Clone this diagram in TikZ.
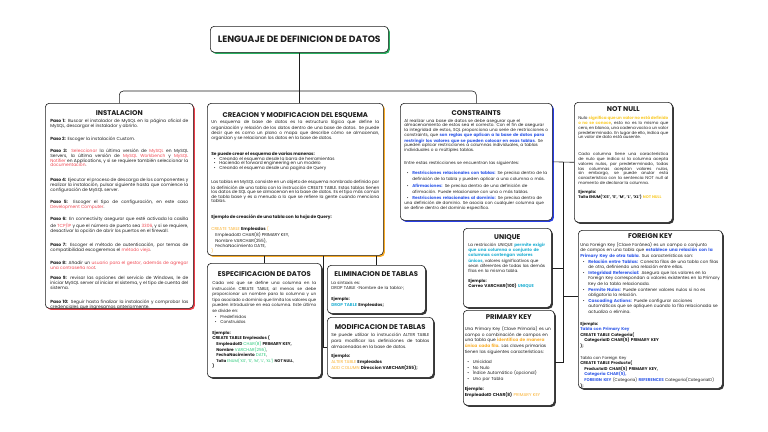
\documentclass[tikz,border=0pt]{standalone}
\usepackage{fontspec}
\setmainfont{Poppins}
\usetikzlibrary{positioning,calc,shadows}

\definecolor{ink}{RGB}{30,30,30}
\definecolor{ttlgreen}{RGB}{40,175,95}
\definecolor{instred}{RGB}{236,62,72}
\definecolor{creaorange}{RGB}{250,172,40}
\definecolor{consblue}{RGB}{40,62,228}
\definecolor{darkshade}{RGB}{55,55,55}
\definecolor{txtred}{RGB}{240,72,82}
\definecolor{txtorange}{RGB}{250,178,50}
\definecolor{txtblue}{RGB}{52,92,232}
\definecolor{txtyellow}{RGB}{250,205,50}
\definecolor{txtteal}{RGB}{40,178,212}
\definecolor{txtgreen}{RGB}{40,200,120}

\newcommand{\rd}[1]{\textcolor{txtred}{#1}}
\newcommand{\og}[1]{\textcolor{txtorange}{#1}}
\newcommand{\bl}[1]{\textcolor{txtblue}{\textbf{#1}}}
\newcommand{\yl}[1]{\textcolor{txtyellow}{\textbf{#1}}}
\newcommand{\tl}[1]{\textcolor{txtteal}{\textbf{#1}}}
\newcommand{\gr}[1]{\textcolor{txtgreen}{#1}}
\newcommand{\gap}[1][5pt]{\par\vspace{#1}}
\newcommand{\itm}[1]{\par\hangindent=8pt\hangafter=1\noindent\makebox[8pt][l]{\hspace{2.5pt}\textbullet}#1}
\newcommand{\ind}{\hspace*{4pt}}
\hyphenpenalty=10000
\exhyphenpenalty=10000
\tolerance=9999
\emergencystretch=8pt

\begin{document}
\begin{tikzpicture}[x=1pt, y=-1pt,
  card/.style={draw=ink, line width=0.6pt, rounded corners=4pt, fill=white, anchor=north west, inner sep=0pt,
    drop shadow={shadow xshift=1.5pt, shadow yshift=-1.5pt, fill=#1, opacity=1}},
  head/.style={font=\fontsize{6.9}{7}\selectfont\bfseries, text=ink, inner sep=0pt, anchor=center},
  body/.style 2 args={font=\fontsize{#1}{#2}\selectfont, text=ink, inner sep=0pt, anchor=north, align=justify},
  link/.style={draw=ink, line width=0.6pt}]
\useasboundingbox[fill=white] (0,0) rectangle (768,431);

%%%%% CARDS %%%%%
\node[card=ttlgreen, minimum width=178pt, minimum height=26pt, font=\fontsize{9.2}{10}\selectfont\bfseries, text=ink] (title) at (210,26) {LENGUAJE DE DEFINICION DE DATOS};

\node[card=instred, minimum width=148pt, minimum height=205pt] (inst) at (45,103) {};
\node[card=creaorange, minimum width=176pt, minimum height=152pt] (crea) at (207,103) {};
\node[card=consblue, minimum width=152pt, minimum height=117pt] (cons) at (400,103) {};
\node[card=darkshade, minimum width=98pt, minimum height=120pt] (notnull) at (574,102) {};
\node[card=darkshade, minimum width=114pt, minimum height=114pt] (espe) at (207,263) {};
\node[card=darkshade, minimum width=98pt, minimum height=48pt] (elim) at (327,265) {};
\node[card=darkshade, minimum width=106pt, minimum height=60pt] (modi) at (327,317) {};
\node[card=darkshade, minimum width=88pt, minimum height=79pt] (uniq) at (463,228) {};
\node[card=darkshade, minimum width=91pt, minimum height=95pt] (prim) at (463,310) {};
\node[card=darkshade, minimum width=144pt, minimum height=158pt] (fore) at (578,230) {};

%%%%% CONNECTORS %%%%%
\draw[link] (title.south) -- (title.south |- crea.north);
\coordinate (bus) at (297,91);
\draw[link, rounded corners=4pt] (inst.north) |- (bus) -| (cons.north);
\draw[link] (cons.east) -- (notnull.west);
\coordinate (trunk) at ($(cons.east)!0.5!(notnull.west)$);
\coordinate (pkin) at ($(prim.north east)!0.55!(prim.south east)$);
\coordinate (fkin) at ($(fore.north west)!0.42!(fore.south west)$);
\draw[link] (trunk) |- (pkin);
\draw[link] (trunk |- uniq.east) -- (uniq.east);
\draw[link] (trunk |- fkin) -- (fkin);
\draw[link] (crea.south -| espe.north) -- (espe.north);
\draw[link] (crea.south -| elim.north) -- (elim.north);
\coordinate (mjoin) at ($(crea.south west)!0.66!(crea.south east)$);
\draw[link] (mjoin) |- (modi.west);

%%%%% INSTALACION %%%%%
\node[head] (instH) at ($(inst.north)+(0,10)$) {INSTALACION};
\node[body={4.4}{4.9}, text width=138pt] (instB) at ($(inst.north)+(0,16)$) {%
\textbf{Paso 1:} Buscar el instalador de MySQL en la página oficial de MySQL, descargar el instalador y abrirlo.\gap[7.6pt]
\textbf{Paso 2:} Escoger la instalación Custom.\gap[7.3pt]
\textbf{Paso 3:} \rd{Seleccionar} la última versión de \rd{MySQL} en MySQL Servers, la última versión de \rd{MySQL Workbench} y \rd{MySQL Notifier} en Applications, y si se requiere también seleccionar la \rd{documentación}.\gap[10pt]
\textbf{Paso 4:} Ejecutar el proceso de descarga de los componentes y realizar la instalación, pulsar siguiente hasta que comience la configuración de MySQL server.\gap[7pt]
\textbf{Paso 5:} Escoger el tipo de configuración, en este caso \rd{Development Computer}.\gap[7.6pt]
\textbf{Paso 6:} En connectivity asegurar que esté activada la casilla de \rd{TCP/IP} y que el número de puerto sea \rd{3306}, y si se requiere, desactivar la opción de abrir los puertos en el firewall.\gap[9.8pt]
\textbf{Paso 7:} Escoger el método de autenticación, por temas de compatibilidad escogeremos el \rd{método viejo}.\gap[7.6pt]
\textbf{Paso 8:} Añadir un \rd{usuario para el gestor, además de agregar una contraseña root}.\gap[5.8pt]
\textbf{Paso 9:} revisar las opciones del servicio de Windows, le de iniciar MySQL server al iniciar el sistema, y el tipo de cuenta del sistema.\gap[8.6pt]
\textbf{Paso 10:} Seguir hasta finalizar la instalación y comprobar las credenciales que ingresamos anteriormente.};

%%%%% CREACION %%%%%
\node[head] (creaH) at ($(crea.north)+(0,12)$) {CREACION Y MODIFICACION DEL ESQUEMA};
\node[body={4.3}{4.5}, text width=168pt] (creaB) at ($(crea.north)+(0,17)$) {%
Un esquema de base de datos es la estructura lógica que define la organización y relación de los datos dentro de una base de datos. Se puede decir que es como un plano o mapa que describe cómo se almacenan, organizan y se relacionan los datos en la base de datos.\gap[11pt]
\textbf{Se puede crear el esquema de varias maneras:}
\itm{Creando el esquema desde la barra de herramientas}
\itm{Haciendo el forward engineering en un modelo}
\itm{Creando el esquema desde una pagina de Query}\gap[10pt]
Las tablas en MySQL consiste en un objeto de esquema nombrado definido por la definición de una tabla con la instrucción CREATE TABLE. Estas tablas tienen los datos de SQL que se almacenan en la base de datos. Es el tipo más común de tabla base y es a menudo a lo que se refiere la gente cuando menciona tablas.\gap[11pt]
\textbf{Ejemplo de creación de una tabla con la hoja de Query:}\gap[6pt]
\og{CREATE TABLE} \textbf{Empleados} \og{(}\par
\ind EmpleadoID CHAR(8) PRIMARY KEY,\par
\ind Nombre VARCHAR(255),\par
\ind FechaNacimiento DATE,\par
\og{)}};

%%%%% CONSTRAINTS %%%%%
\node[head] (consH) at ($(cons.north)+(0,10)$) {CONSTRAINTS};
\node[body={4.2}{4.4}, text width=144pt, align=left] (consB) at ($(cons.north)+(0,16)$) {%
Al realizar una base de datos se debe asegurar que el almacenamiento de estos sea el correcto. Con el fin de asegurar la integridad de estos, SQL proporciona una serie de restricciones o constraints, que \bl{son reglas que aplican a la base de datos para restringir los valores que se pueden colocar en esas tablas}. Se pueden aplicar restricciones a columnas individuales, a tablas individuales o a múltiples tablas.\gap[9pt]
Entre estas restricciones se encuentran las siguientes:\gap[5pt]
\itm{\bl{Restricciones relacionales con tablas:} Se precisa dentro de la definición de la tabla y pueden aplicar a una columna o más.}\gap[2pt]
\itm{\bl{Afirmaciones:} Se precisa dentro de una definición de afirmación. Puede relacionarse con una o más tablas.}\gap[2pt]
\itm{\bl{Restricciones relacionales al dominio:} Se precisa dentro de una definición de dominio. Se asocia con cualquier columna que se define dentro del dominio específico.}};

%%%%% NOT NULL %%%%%
\node[head] (notnullH) at ($(notnull.north)+(0,7)$) {NOT NULL};
\node[body={4.1}{4.8}, text width=90pt] (notnullB) at ($(notnull.north)+(0,14)$) {%
Nulo \yl{significa que un valor no está definido o no se conoce}, esto no es lo mismo que cero, en blanco, una cadena vacía o un valor predeterminado. En lugar de ello, indica que un valor de dato está ausente.\gap[12pt]
Cada columna tiene una característica de nulo que indica si la columna acepta valores nulos, por predeterminado, todas las columnas aceptan valores nulos, sin embargo, se puede anular esta característica con la sentencia NOT null al momento de declarar la columna.\gap[4pt]
\textbf{Ejemplo:}\par
{\fontsize{3.9}{4.8}\selectfont\textbf{Talla ENUM('XS', 'S', 'M', 'L', 'XL')} \yl{NOT NULL}}};

%%%%% ESPECIFICACION %%%%%
\node[head] (espeH) at ($(espe.north)+(0,11)$) {ESPECIFICACION DE DATOS};
\node[body={4.2}{5.6}, text width=104pt] (espeB) at ($(espe.north)+(0,18)$) {%
Cada vez que se define una columna en la instrucción CREATE TABLE, al menos se debe proporcionar un nombre para la columna y un tipo asociado o dominio que limita los valores que pueden introducirse en esa columna. Este último se divide en:
\itm{Predefinidos}
\itm{Construidos}\gap[5pt]
\textbf{Ejemplo:}\par
\textbf{CREATE TABLE Empleados (}\par
\ind\textbf{EmpleadoID} \gr{CHAR(8)} \textbf{PRIMARY KEY,}\par
\ind\textbf{Nombre} \gr{VARCHAR(255)},\par
\ind\textbf{FechaNacimiento} \gr{DATE},\par
{\fontsize{3.9}{5.6}\selectfont\ind\textbf{Talla} \gr{ENUM('XS', 'S', 'M', 'L', 'XL')} \textbf{NOT NULL},}\par
\textbf{)}};

%%%%% ELIMINACION %%%%%
\node[head] (elimH) at ($(elim.north)+(0,9)$) {ELIMINACION DE TABLAS};
\node[body={4.2}{5.5}, text width=90pt, align=left] (elimB) at ($(elim.north)+(0,16)$) {%
La sintaxis es:\par
DROP TABLE <Nombre de la tabla>;\gap[5.5pt]
\textbf{Ejemplo:}\par
\tl{DROP TABLE} \textbf{Empleados;}};

%%%%% MODIFICACION %%%%%
\node[head] (modiH) at ($(modi.north)+(0,10)$) {MODIFICACION DE TABLAS};
\node[body={4.3}{5.8}, text width=98pt] (modiB) at ($(modi.north)+(0,16)$) {%
Se puede utilizar la instrucción ALTER TABLE para modificar las definiciones de tablas almacenadas en la base de datos.\gap[4pt]
\textbf{Ejemplo:}\par
\og{ALTER TABLE} \textbf{Empleados}\par
\og{ADD COLUMN} \textbf{Direccion VARCHAR(255);}};

%%%%% UNIQUE %%%%%
\node[head] (uniqH) at ($(uniq.north)+(0,9)$) {UNIQUE};
\node[body={4.2}{5.2}, text width=78pt, align=left] (uniqB) at ($(uniq.north)+(0,15)$) {%
La restricción UNIQUE \tl{permite exigir que una columna o conjunto de columnas contengan valores únicos}, valores significativos que sean diferentes de todas las demás filas en la misma tabla.\gap[5pt]
\textbf{Ejemplo:}\par
\textbf{Correo VARCHAR(100)} \tl{UNIQUE}};

%%%%% PRIMARY KEY %%%%%
\node[head] (primH) at ($(prim.north)+(0,7)$) {PRIMARY KEY};
\node[body={4.3}{5.8}, text width=88pt, align=left] (primB) at ($(prim.north)+(0,16)$) {%
Una Primary Key (Clave Primaria) es un campo o combinación de campos en una tabla que \og{\textbf{identifica de manera única cada fila}}. Las claves primarias tienen las siguientes características:\gap[4pt]
\itm{Unicidad}
\itm{No Nulo}
\itm{Índice Automático (opcional)}
\itm{Uno por Tabla}\gap[4pt]
\textbf{Ejemplo:}\par
\textbf{EmpleadoID CHAR(8)} \og{PRIMARY KEY}};

%%%%% FOREIGN KEY %%%%%
\node[head] (foreH) at ($(fore.north)+(0,6)$) {FOREIGN KEY};
\node[body={4.3}{5.6}, text width=140pt, align=left] (foreB) at ($(fore.north)+(0,12)$) {%
Una Foreign Key (Clave Foránea) es un campo o conjunto de campos en una tabla que \bl{establece una relación con la Primary Key de otra tabla}. Sus características son:
\itm{\bl{Relación entre Tablas:} Conecta filas de una tabla con filas de otra, definiendo una relación entre ellas.}
\itm{\bl{Integridad Referencial:} Asegura que los valores en la Foreign Key correspondan a valores existentes en la Primary Key de la tabla relacionada.}
\itm{\bl{Permite Nulos:} Puede contener valores nulos si no es obligatoria la relación.}
\itm{\bl{Cascading Actions:} Puede configurar acciones automáticas que se apliquen cuando la fila relacionada se actualiza o elimina.}\gap[6pt]
\fontsize{4.1}{5.6}\selectfont
\textbf{Ejemplo:}\par
\bl{Tabla con Primary Key}\par
\textbf{CREATE TABLE Categoria(}\par
\ind\textbf{CategoriaID CHAR(5) PRIMARY KEY}\par
\textbf{);}\gap[6pt]
Tabla con Foreign Key\par
\textbf{CREATE TABLE Producto(}\par
\ind\textbf{ProductoID CHAR(5) PRIMARY KEY,}\par
\ind\bl{Categoria CHAR(5),}\par
\ind\bl{FOREIGN KEY} (Categoria) \bl{REFERENCES} Categoria(CategoriaID)\par
\textbf{);}};
\end{tikzpicture}
\end{document}
